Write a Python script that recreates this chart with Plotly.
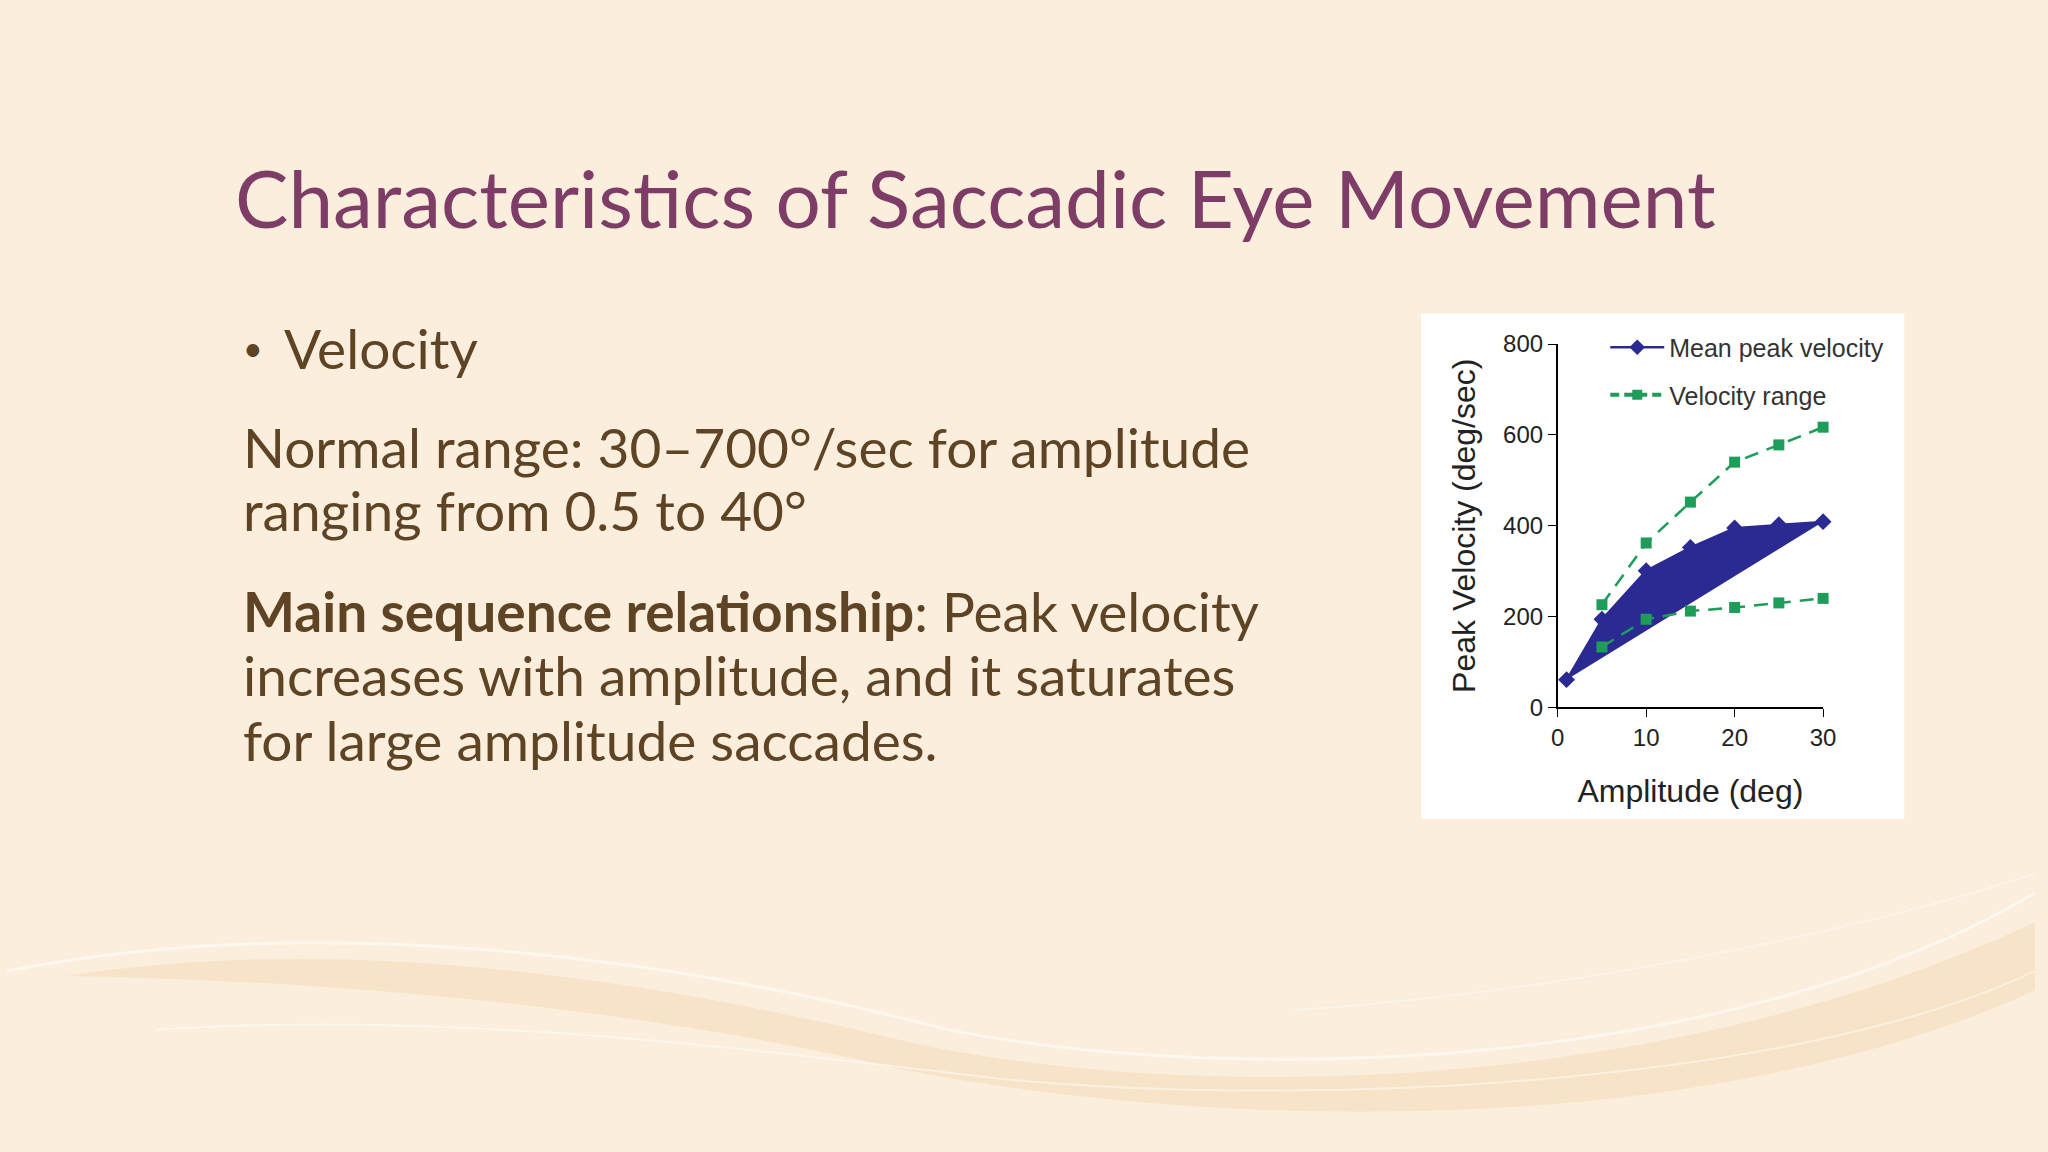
import plotly.graph_objects as go

# data
amp_mean = [1, 5, 10, 15, 20, 25, 30]
vel_mean = [61, 194, 301, 352, 395, 402, 409]
amp_range = [5, 10, 15, 20, 25, 30]
vel_upper = [226, 362, 452, 540, 578, 617]
vel_lower = [133, 194, 212, 220, 230, 240]

W, H = 2048, 1152
BLUE = '#2A2A92'
GREEN = '#1E9C5A'
BROWN = '#5E4424'
PURPLE = '#7E3D66'


def px(x, y):
    return x / W, 1 - y / H


def wave(points):
    # points in pixels -> svg path in paper units
    s = ''
    for i, p in enumerate(points):
        if i == 0:
            x, y = px(*p)
            s += 'M%.4f,%.4f' % (x, y)
        else:
            s += ' C' + ' '.join('%.4f,%.4f' % px(*q) for q in p)
    return s


fig = go.Figure()

# shaded region under the mean peak velocity curve
fig.add_trace(go.Scatter(x=amp_mean, y=vel_mean, mode='lines+markers', fill='toself',
                         fillcolor=BLUE, line=dict(color=BLUE, width=2),
                         marker=dict(symbol='diamond', size=13, color=BLUE),
                         showlegend=False, cliponaxis=False, hoverinfo='skip'))
fig.add_trace(go.Scatter(x=amp_range, y=vel_upper, mode='lines+markers',
                         line=dict(color=GREEN, width=2.5, dash='14px,9px'),
                         marker=dict(symbol='square', size=11, color=GREEN),
                         showlegend=False, cliponaxis=False))
fig.add_trace(go.Scatter(x=amp_range, y=vel_lower, mode='lines+markers',
                         line=dict(color=GREEN, width=2.5, dash='14px,9px'),
                         marker=dict(symbol='square', size=11, color=GREEN),
                         showlegend=False, cliponaxis=False))
# legend entries
fig.add_trace(go.Scatter(x=[None], y=[None], mode='lines+markers', name='Mean peak velocity',
                         line=dict(color=BLUE, width=2.5),
                         marker=dict(symbol='diamond', size=12, color=BLUE), legendgroup='a'))
fig.add_trace(go.Scatter(x=[None], y=[None], mode='lines+markers', name='Velocity range',
                         line=dict(color=GREEN, width=4, dash='9px,5px'),
                         marker=dict(symbol='square', size=10, color=GREEN), legendgroup='b'))

shapes = []
# soft waves in the slide background
shapes.append(dict(type='path', xref='paper', yref='paper', layer='below', line=dict(width=0),
                   fillcolor='rgba(236,206,150,0.28)',
                   path=wave([(60, 985), [(350, 940), (650, 990), (900, 1050)],
                              [(1150, 1110), (1650, 1120), (2048, 930)],
                              [(2048, 960), (2048, 980), (2048, 1000)],
                              [(1700, 1160), (1200, 1140), (900, 1080)],
                              [(650, 1020), (350, 990), (60, 985)]]) + ' Z'))
shapes.append(dict(type='path', xref='paper', yref='paper', layer='below',
                   line=dict(color='rgba(255,255,255,0.55)', width=3),
                   path=wave([(0, 980), [(300, 920), (650, 960), (950, 1040)],
                              [(1250, 1100), (1750, 1080), (2048, 900)]])))
shapes.append(dict(type='path', xref='paper', yref='paper', layer='below',
                   line=dict(color='rgba(255,255,255,0.45)', width=2),
                   path=wave([(150, 1040), [(450, 1020), (750, 1060), (1000, 1090)],
                              [(1300, 1120), (1800, 1100), (2048, 980)]])))
shapes.append(dict(type='path', xref='paper', yref='paper', layer='below',
                   line=dict(color='rgba(255,255,255,0.35)', width=2),
                   path=wave([(1300, 1020), [(1600, 1000), (1900, 930), (2048, 880)]])))
# white panel behind the figure
x0, y0 = px(1428, 824)
x1, y1 = px(1916, 307)
shapes.append(dict(type='rect', xref='paper', yref='paper', x0=x0, x1=x1, y0=y0, y1=y1,
                   fillcolor='white', line=dict(width=0), layer='below'))

ann = []


def text(t, x, y, size, color, font='Lato'):
    xx, yy = px(x, y)
    ann.append(dict(text=t, x=xx, y=yy, xref='paper', yref='paper', xanchor='left',
                    yanchor='middle', showarrow=False, font=dict(family=font, size=size, color=color)))


text('Characteristics of Saccadic Eye Movement', 228, 187, 80, PURPLE)
text('•', 236, 342, 34, BROWN)
text('Velocity', 278, 342, 55, BROWN)
text('Normal range: 30–700°/sec for amplitude', 236, 443, 55, BROWN)
text('ranging from 0.5 to 40°', 236, 508, 55, BROWN)
text('<b>Main sequence relationship</b>: Peak velocity', 236, 611, 55, BROWN)
text('increases with amplitude, and it saturates', 236, 677, 55, BROWN)
text('for large amplitude saccades.', 236, 743, 55, BROWN)

ax0, ay0 = px(1566, 710)
ax1, ay1 = px(1834, 338)
lx, ly = px(1614, 318)

fig.update_layout(
    autosize=True, margin=dict(l=0, r=0, t=0, b=0),
    paper_bgcolor='#FBEEDC', plot_bgcolor='white',
    shapes=shapes, annotations=ann,
    font=dict(family='Liberation Sans', color='#222222'),
    xaxis=dict(domain=[ax0, ax1], range=[0, 30], tickvals=[0, 10, 20, 30], showgrid=False,
               zeroline=False, showline=True, linecolor='black', linewidth=1.5,
               ticks='outside', ticklen=8, tickcolor='black', tickfont=dict(size=24),
               title=dict(text='Amplitude (deg)', font=dict(size=32), standoff=30)),
    yaxis=dict(domain=[ay0, ay1], range=[0, 800], tickvals=[0, 200, 400, 600, 800], showgrid=False,
               zeroline=False, showline=True, linecolor='black', linewidth=1.5,
               ticks='outside', ticklen=8, tickcolor='black', tickfont=dict(size=24),
               title=dict(text='Peak Velocity (deg/sec)', font=dict(size=32), standoff=18)),
    legend=dict(x=lx, y=ly, xanchor='left', yanchor='top', bgcolor='rgba(0,0,0,0)',
                font=dict(size=25, color='#333333'), tracegroupgap=12, traceorder='grouped',
                itemwidth=54),
)

# the page fills the browser window
fig.write_html('out.html', default_width='100vw', default_height='100vh',
               config={'displayModeBar': False, 'responsive': True},
               post_script="document.documentElement.style.overflow='hidden';"
                           "document.body.style.overflow='hidden';"
                           "document.body.style.margin='0';"
                           "document.body.style.background='#FBEEDC';"
                           "window.dispatchEvent(new Event('resize'));")
